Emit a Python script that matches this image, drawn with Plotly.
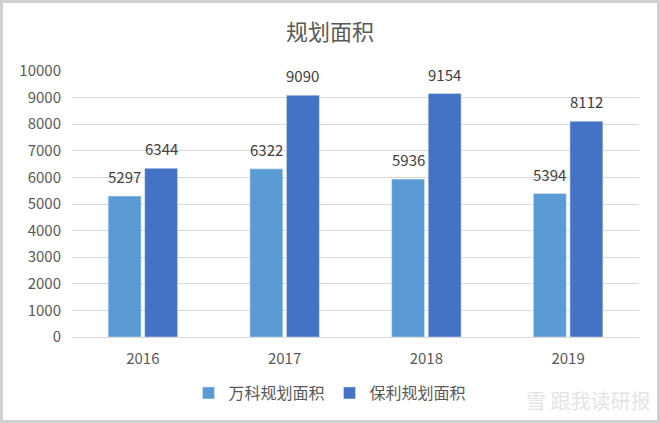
import plotly.graph_objects as go

years = ["2016", "2017", "2018", "2019"]
vanke = [5297, 6322, 5936, 5394]
poly = [6344, 9090, 9154, 8112]
series_names = ["万科规划面积", "保利规划面积"]
colors = ["#5B9BD5", "#4472C4"]

W, H = 660, 423
ml, mr, mt, mb = 72, 21, 71, 86
pw, ph = W - ml - mr, H - mt - mb
bargap = 0.484
slot = pw / len(years) * (1 - bargap) / 2

fig = go.Figure()
for i, (name, vals, c) in enumerate(zip(series_names, [vanke, poly], colors)):
    fig.add_trace(go.Bar(x=years, y=vals, name=name, marker_color=c))
    dx = (i - 0.5) * slot
    for j, v in enumerate(vals):
        # category axis: annotation x given as category index
        fig.add_annotation(x=j, y=v, text=str(v), showarrow=False, xshift=dx, yshift=7,
                           yanchor="bottom", font=dict(size=15, color="#404040"))

font = "Microsoft YaHei, Noto Sans CJK SC, sans-serif"
fig.update_layout(
    width=W, height=H,
    margin=dict(l=ml, r=mr, t=mt, b=mb),
    paper_bgcolor="white", plot_bgcolor="white",
    barmode="group", bargap=bargap, bargroupgap=0.1,
    font=dict(family=font, color="#595959"),
    title=dict(text="规划面积", x=0.5, xanchor="center", y=1 - 32 / H, yanchor="middle",
               font=dict(size=22, color="#595959", family=font)),
    showlegend=True,
    legend=dict(orientation="h", x=(330 - ml) / pw, xanchor="center", y=-(393 - mt - ph) / ph, yanchor="middle",
                font=dict(size=16, color="#595959"), itemwidth=30, traceorder="normal"),
    yaxis=dict(range=[0, 10000], dtick=1000, tickformat="d", showgrid=True, gridcolor="#D9D9D9", gridwidth=1,
               tickfont=dict(size=15, color="#595959"), zeroline=False, ticks="", showline=False,
               ticklabelstandoff=10),
    xaxis=dict(type="category", range=[-0.5, len(years) - 0.5], tickfont=dict(size=15, color="#595959"),
               showline=True, linecolor="#D9D9D9", ticks="", ticklabelstandoff=8),
)

# outer frame
fig.add_shape(type="rect", xref="paper", yref="paper",
              x0=-(ml - 1.5) / pw, x1=1 + (mr - 1.5) / pw,
              y0=-(mb - 1.5) / ph, y1=1 + (mt - 1.5) / ph,
              line=dict(color="#D0D0D0", width=3), fillcolor="rgba(0,0,0,0)", layer="below")

# watermark
fig.add_annotation(text="雪 跟我读研报", xref="paper", yref="paper",
                   x=1 + (mr - 8) / pw, y=-(400 - mt - ph) / ph, xanchor="right", yanchor="middle",
                   showarrow=False, font=dict(size=20, color="rgba(215,215,215,0.7)", family=font))

fig.write_html("out.html")
